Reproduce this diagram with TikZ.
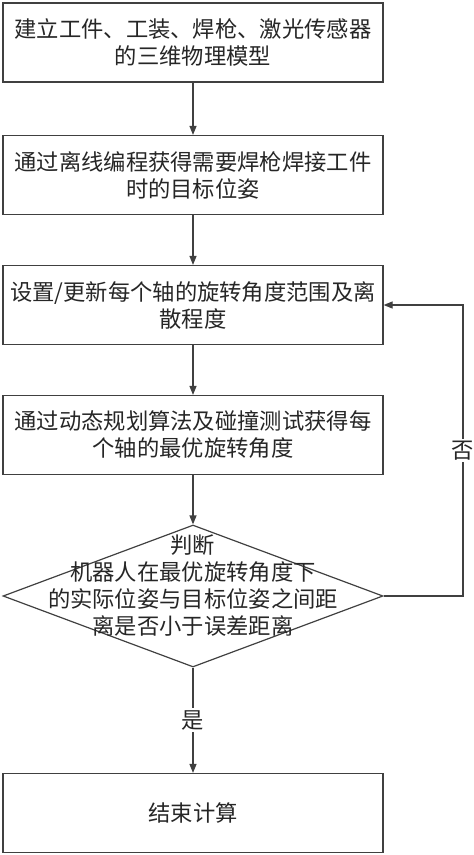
\documentclass[tikz,border=0pt]{standalone}
\usepackage{fontspec}
\newfontfamily\cjk{Noto Sans CJK SC}
\usetikzlibrary{arrows.meta,shapes.geometric}

\begin{document}
\begin{tikzpicture}[x=1pt,y=-1pt,
  every node/.style={font=\cjk\fontsize{22.3}{27}\selectfont,text=black!85},
  box/.style={draw=black!75,line width=1.2pt,minimum width=380pt,minimum height=79pt,inner sep=0pt,align=center},
  judge/.style={draw=black!75,line width=1.2pt,shape=diamond,minimum width=380pt,minimum height=142pt,inner sep=0pt},
  flow/.style={draw=black!75,line width=1.2pt,-{Triangle[length=9pt,width=7pt]}},
  tag/.style={fill=white,inner sep=2pt}]
\useasboundingbox (0,0) rectangle (474,855);
\node[box] (model) at (193,42.5) {建立工件、工装、焊枪、激光传感器\\的三维物理模型};
\node[box] (pose) at (193,175) {通过离线编程获得需要焊枪焊接工件\\时的目标位姿};
\node[box] (set) at (193,305) {设置/更新每个轴的旋转角度范围及离\\散程度};
\node[box] (plan) at (193,435) {通过动态规划算法及碰撞测试获得每\\个轴的最优旋转角度};
\node[judge] (check) at (193,596) {};
\node[align=center,yshift=10pt] (checktext) at (check) {判断\\机器人在最优旋转角度下\\的实际位姿与目标位姿之间距\\离是否小于误差距离};
\node[box] (done) at (193,813) {结束计算};
\coordinate (back) at (463,596);

\path
(model) edge[flow] (pose)
(pose) edge[flow] (set)
(set) edge[flow] (plan)
(plan) edge[flow] (check)
(check) edge[flow] node[tag] {是} (done);
\draw[flow] (check.east) -- (back) |- node[tag,pos=0.25] {否} (set.east);
\end{tikzpicture}
\end{document}
